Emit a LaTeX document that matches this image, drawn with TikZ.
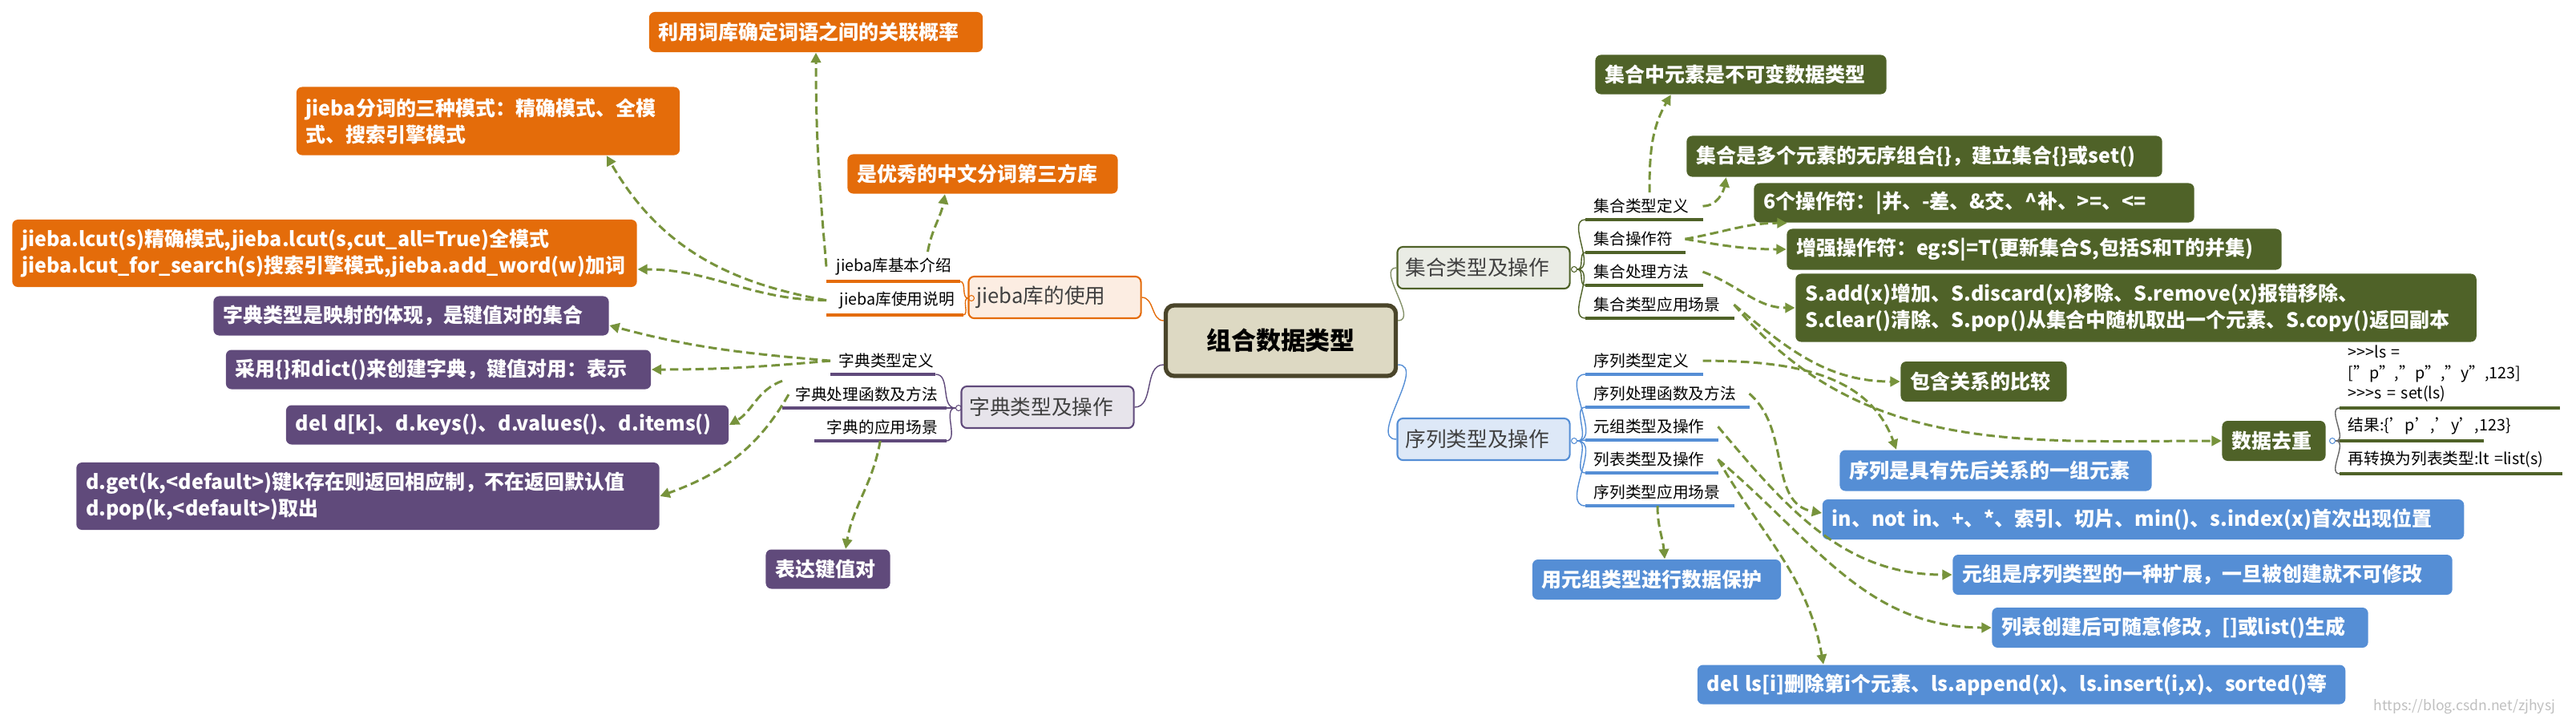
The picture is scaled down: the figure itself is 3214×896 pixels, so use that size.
\documentclass[tikz,border=0pt]{standalone}
\usepackage{fontspec}
\setmainfont{Noto Sans CJK SC}
\usetikzlibrary{arrows.meta}
\usetikzlibrary{calc}
\definecolor{jorange}{HTML}{E46C0A}
\definecolor{jpurple}{HTML}{604A7B}
\definecolor{jgreen}{HTML}{4F6228}
\definecolor{jblue}{HTML}{558ED5}
\definecolor{jlink}{HTML}{77933C}
\definecolor{jcenter}{HTML}{DDD9C3}
\definecolor{jcenterline}{HTML}{4A452A}

\begin{document}
\begin{tikzpicture}[x=0.01cm,y=-0.01cm,
    box/.style={rounded corners=2pt,text=white,align=left,inner xsep=0.12cm,inner ysep=0pt,
        font=\fontsize{7.1}{9.4}\selectfont\bfseries},
    orangebox/.style={box,fill=jorange},
    purplebox/.style={box,fill=jpurple},
    greenbox/.style={box,fill=jgreen},
    bluebox/.style={box,fill=jblue},
    topic/.style={draw,rounded corners=2pt,line width=0.6pt,minimum height=0.52cm,
        text width=1.95cm,align=left,inner xsep=0.1cm,font=\fontsize{7.3}{9}\selectfont,text=black!75},
    sub/.style={inner xsep=0.1cm,inner ysep=2pt,font=\fontsize{5.6}{7.2}\selectfont},
    knot/.style={circle,draw,inner sep=0pt,minimum size=0.07cm,line width=0.3pt},
    link/.style={draw=jlink,dash pattern=on 3pt off 1.5pt,line width=0.85pt,
        -{Triangle[length=3.5pt,width=3.5pt]}}]
\useasboundingbox (0,0) rectangle (3214,896);

% centre
\node[draw=jcenterline,fill=jcenter,line width=1.5pt,rounded corners=3pt,minimum width=2.87cm,
    minimum height=0.88cm,font=\fontsize{8.8}{10}\selectfont\bfseries] (center) at (1598,425) {组合数据类型};

% main topics
\node[topic,draw=jorange,fill=jorange!12] (jieba) at (1316,371) {jieba库的使用};
\node[topic,draw=jpurple,fill=jpurple!15] (dict) at (1307,508) {字典类型及操作};
\node[topic,draw=jgreen,fill=jgreen!12] (set) at (1851,334) {集合类型及操作};
\node[topic,draw=jblue,fill=jblue!20] (seq) at (1851,548) {序列类型及操作};

\draw[jorange,line width=0.4pt] ($(center.west)+(0,-25)$) to[out=180,in=0] (jieba.east);
\draw[jpurple,line width=0.4pt] ($(center.west)+(0,30)$) to[out=180,in=0] (dict.east);
\draw[jgreen!70,line width=0.4pt] ($(center.east)+(0,-25)$) to[out=0,in=180] (set.west);
\draw[jblue,line width=0.4pt] ($(center.east)+(0,30)$) to[out=0,in=180] (seq.west);

% sub topics
\node[sub,anchor=south west,text width=1.45cm,align=right] (jBasic) at (1031,351) {jieba库基本介绍};
\node[sub,anchor=south west,text width=1.49cm,align=right] (jUsage) at (1031,393) {jieba库使用说明};
\node[sub,anchor=south west,text width=1.10cm,align=right] (dDef) at (1036,467) {字典类型定义};
\node[sub,anchor=south west,text width=1.83cm,align=right] (dFunc) at (976,509) {字典处理函数及方法};
\node[sub,anchor=south west,text width=1.43cm,align=right] (dScene) at (1016,550) {字典的应用场景};
\node[sub,anchor=south west,text width=1.25cm,align=left] (sDef) at (1978,274) {集合类型定义};
\node[sub,anchor=south west,text width=1.03cm,align=left] (sOp) at (1978,315) {集合操作符};
\node[sub,anchor=south west,text width=1.25cm,align=left] (sMeth) at (1978,356) {集合处理方法};
\node[sub,anchor=south west,text width=1.64cm,align=left] (sScene) at (1978,397) {集合类型应用场景};
\node[sub,anchor=south west,text width=1.25cm,align=left] (qDef) at (1978,467) {序列类型定义};
\node[sub,anchor=south west,text width=1.83cm,align=left] (qFunc) at (1978,508) {序列处理函数及方法};
\node[sub,anchor=south west,text width=1.44cm,align=left] (qTup) at (1978,549) {元组类型及操作};
\node[sub,anchor=south west,text width=1.44cm,align=left] (qList) at (1978,590) {列表类型及操作};
\node[sub,anchor=south west,text width=1.64cm,align=left] (qScene) at (1978,631) {序列类型应用场景};
\node[sub,anchor=south west,text width=2.53cm,align=left] (k1) at (2919,509) {>{}>{}>ls = ["p","p","y",123]\\>{}>{}>s = set(ls)};
\node[sub,anchor=south west,text width=1.58cm,align=left] (k2) at (2919,550) {结果:\{'p','y',123\}};
\node[sub,anchor=south west,text width=2.56cm,align=left] (k3) at (2919,591) {\mbox{再转换为列表类型:lt =list(s)}};

\foreach \n/\c in {jBasic/jorange,jUsage/jorange,dDef/jpurple,dFunc/jpurple,dScene/jpurple,
    sDef/jgreen,sOp/jgreen,sMeth/jgreen,sScene/jgreen,k1/jgreen,k2/jgreen,k3/jgreen,
    qDef/jblue,qFunc/jblue,qTup/jblue,qList/jblue,qScene/jblue}
    \draw[\c,line width=1.3pt] (\n.south west) -- (\n.south east);

% knots and brackets
\node[knot,draw=jorange] (jKnot) at (1212,372) {};
\node[knot,draw=jpurple] (dKnot) at (1196,509) {};
\node[knot,draw=jgreen] (sKnot) at (1964,336) {};
\node[knot,draw=jblue] (qKnot) at (1964,550) {};
\node[knot,draw=jblue] (kKnot) at (2910,550) {};
\foreach \s in {jBasic,jUsage} \draw[jorange,line width=0.4pt] (jKnot.west) to[out=180,in=0] (\s.south east);
\foreach \s in {dDef,dFunc,dScene} \draw[jpurple,line width=0.4pt] (dKnot.west) to[out=180,in=0] (\s.south east);
\foreach \s in {sDef,sOp,sMeth,sScene} \draw[jgreen,line width=0.4pt] (sKnot.east) to[out=0,in=180] (\s.south west);
\foreach \s in {qDef,qFunc,qTup,qList,qScene} \draw[jblue,line width=0.4pt] (qKnot.east) to[out=0,in=180] (\s.south west);
\foreach \s in {k1,k2,k3} \draw[black!60,line width=0.4pt] (kKnot.east) to[out=0,in=180] (\s.south west);

% jieba
\node[orangebox,text width=3.92cm,minimum height=0.5cm] (uCiku) at (1018,40) {利用词库确定词语之间的关联概率};
\node[orangebox,text width=4.54cm,minimum height=0.85cm] (uMoshi) at (609,151) {jieba分词的三种模式：精确模式、全模\\式、搜索引擎模式};
\node[orangebox,text width=3.13cm,minimum height=0.49cm] (uYouxiu) at (1226,217) {是优秀的中文分词第三方库};
\node[orangebox,text width=7.55cm,minimum height=0.84cm] (uLcut) at (405,316) {jieba.lcut(s)精确模式,jieba.lcut(s,cut\_all=True)全模式\\jieba.lcut\_for\_search(s)搜索引擎模式,jieba.add\_word(w)加词};

% dict
\node[purplebox,text width=4.69cm,minimum height=0.49cm] (dYingshe) at (513,394) {字典类型是映射的体现，是键值对的集合};
\node[purplebox,text width=5.06cm,minimum height=0.49cm] (dDict) at (547,461) {采用\{\}和dict()来创建字典，键值对用：表示};
\node[purplebox,text width=5.28cm,minimum height=0.49cm] (dDel) at (633,530) {del d[k]、d.keys()、d.values()、d.items()};
\node[purplebox,text width=7.03cm,minimum height=0.84cm] (dGet) at (459,619) {d.get(k,<default>)键k存在则返回相应制，不在返回默认值\\d.pop(k,<default>)取出};
\node[purplebox,text width=1.31cm,minimum height=0.49cm] (dJianzhi) at (1033,710) {表达键值对};

% set
\node[greenbox,text width=3.39cm,minimum height=0.49cm] (sBukebian) at (2172,93) {集合中元素是不可变数据类型};
\node[greenbox,text width=5.69cm,minimum height=0.51cm] (sWuxu) at (2401,195) {集合是多个元素的无序组合\{\}，建立集合\{\}或set()};
\node[greenbox,text width=5.25cm,minimum height=0.49cm] (sSix) at (2463,253) {6个操作符：|并、-差、\&交、\^{}补、>=、<=};
\node[greenbox,text width=5.93cm,minimum height=0.51cm] (sZengqiang) at (2538,311) {增强操作符：eg:S|=T(更新集合S,包括S和T的并集)};
\node[greenbox,text width=8.25cm,minimum height=0.85cm] (sAdd) at (2665,384) {S.add(x)增加、S.discard(x)移除、S.remove(x)报错移除、\\S.clear()清除、S.pop()从集合中随机取出一个元素、S.copy()返回副本};
\node[greenbox,text width=1.83cm,minimum height=0.5cm] (sBaohan) at (2475,476) {包含关系的比较};
\node[greenbox,text width=1.05cm,minimum height=0.5cm] (sQuchong) at (2837,550) {数据去重};

% sequence
\node[bluebox,text width=3.65cm,minimum height=0.51cm] (qXianhou) at (2490,587) {序列是具有先后关系的一组元素};
\node[bluebox,text width=7.76cm,minimum height=0.5cm] (qIn) at (2674,648) {in、not in、+、*、索引、切片、min()、s.index(x)首次出现位置};
\node[bluebox,text width=5.99cm,minimum height=0.5cm] (qYuanzu) at (2748,717) {元组是序列类型的一种扩展，一旦被创建就不可修改};
\node[bluebox,text width=4.45cm,minimum height=0.5cm] (qLiebiao) at (2720,783) {列表创建后可随意修改，[]或list()生成};
\node[bluebox,text width=2.86cm,minimum height=0.5cm] (qBaohu) at (2067,723) {用元组类型进行数据保护};
\node[bluebox,text width=7.84cm,minimum height=0.49cm] (qDel) at (2522,854) {del ls[i]删除第i个元素、ls.append(x)、ls.insert(i,x)、sorted()等};

\node[text=black!25,font=\fontsize{5}{6}\selectfont] (wm) at (3075,882) {https://blog.csdn.net/zjhysj};

% links
\draw[link] (jBasic.west) to[out=95,in=-90] (uCiku.south);
\draw[link] ($(jBasic.north east)+(-40,0)$) to[out=80,in=-100] ($(uYouxiu.south)+(-47,0)$);
\draw[link] (jUsage.west) to[out=170,in=-60] ($(uMoshi.south east)+(-92,0)$);
\draw[link] (jUsage.west) to[out=180,in=0] ($(uLcut.east)+(0,20)$);
\draw[link] (dDef.west) to[out=175,in=-15] ($(dYingshe.east)+(0,12)$);
\draw[link] (dDef.west) to[out=185,in=0] (dDict.east);
\draw[link] (dFunc.north west) to[out=200,in=30] (dDel.east);
\draw[link] ($(dFunc.west)+(8,0)$) to[out=240,in=20] (dGet.east);
\draw[link] (dScene.south) to[out=-100,in=80] ($(dJianzhi.north)+(22,0)$);
\draw[link] ($(sDef.north west)+(80,0)$) to[out=90,in=-120] ($(sBukebian.south west)+(95,0)$);
\draw[link] (sDef.east) to[out=0,in=-100] ($(sWuxu.south west)+(50,0)$);
\draw[link] (sOp.east) to[out=10,in=180] ($(sSix.south west)+(42,0)$);
\draw[link] (sOp.east) to[out=-10,in=180] (sZengqiang.west);
\draw[link] (sMeth.east) to[out=-20,in=180] (sAdd.west);
\draw[link] (sScene.east) to[out=-40,in=180] (sBaohan.west);
\draw[link] (sScene.east) to[out=-50,in=180] (sQuchong.west);
\draw[link] (qDef.east) to[out=0,in=110] ($(qXianhou.north)+(-124,0)$);
\draw[link] (qFunc.east) to[out=-40,in=170] ($(qIn.west)+(0,-8)$);
\draw[link] (qTup.east) to[out=-50,in=180] (qYuanzu.west);
\draw[link] (qList.east) to[out=-40,in=180] (qLiebiao.west);
\draw[link] (qList.east) to[out=-60,in=100] ($(qDel.north)+(-247,0)$);
\draw[link] ($(qScene.south west)+(90,0)$) to[out=-90,in=95] ($(qBaohu.north)+(10,0)$);
\end{tikzpicture}
\end{document}
